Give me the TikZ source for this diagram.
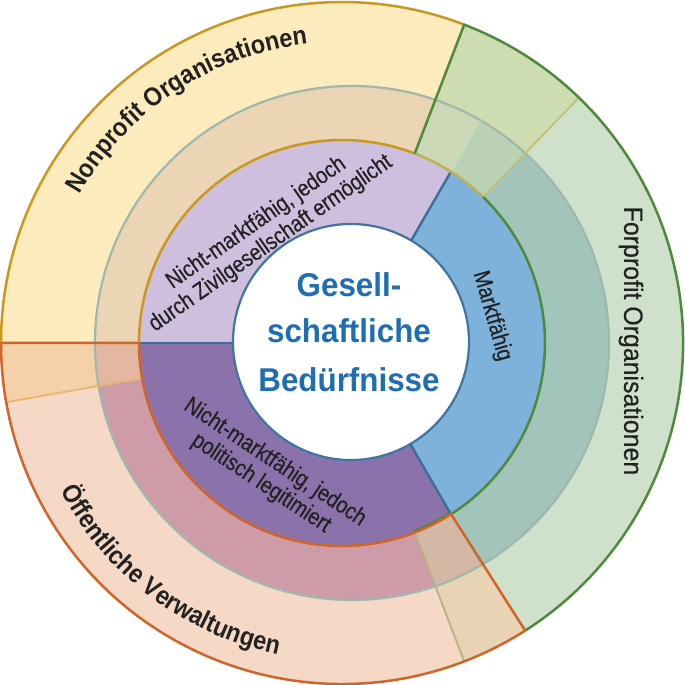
\documentclass[tikz,border=0pt]{standalone}
\usepackage{fontspec}
\setmainfont{Liberation Sans}
\newfontfamily\needfont[FakeStretch=0.84, FakeBold=0.4]{Liberation Sans}
\newfontfamily\orgcond[FakeStretch=0.9]{Liberation Sans}
\newfontfamily\ctrfont[FakeStretch=0.95]{Liberation Sans}
\newfontfamily\forfont[FakeStretch=0.94, FakeBold=0.4]{Liberation Sans}
\usetikzlibrary{decorations.text}
\definecolor{cYel}{HTML}{FBEBBD}
\definecolor{cYelM}{HTML}{EBD5B4}
\definecolor{cGrn}{HTML}{CFE1CB}
\definecolor{cGrnM}{HTML}{A3C4BA}
\definecolor{cYG}{HTML}{CEDCB2}
\definecolor{cYGL}{HTML}{CCD7B6}
\definecolor{cYGB}{HTML}{BAD2B3}
\definecolor{cSal}{HTML}{F5D8C5}
\definecolor{cSalM}{HTML}{CE9CA8}
\definecolor{cOra}{HTML}{F5D1A9}
\definecolor{cOraM}{HTML}{E4B8A0}
\definecolor{cGS}{HTML}{E8D3B4}
\definecolor{cGSM}{HTML}{D4B8A6}
\definecolor{cLav}{HTML}{CDBFDD}
\definecolor{cPur}{HTML}{8C72AA}
\definecolor{cBlu}{HTML}{7EB2DA}
\definecolor{lGold}{HTML}{C9981F}
\definecolor{lGreen}{HTML}{4F8A3C}
\definecolor{lOrange}{HTML}{D0652A}
\definecolor{lOlive}{HTML}{C4BE78}
\definecolor{lOliveG}{HTML}{BDB25A}
\definecolor{lKhaki}{HTML}{B7B27F}
\definecolor{lLOrange}{HTML}{E8B46E}
\definecolor{lRing}{HTML}{A0B7AE}
\definecolor{lNeed}{HTML}{3C6E9C}
\definecolor{lWhite}{HTML}{3F75A5}
\definecolor{tBlue}{HTML}{1F6EB4}
\definecolor{tDark}{HTML}{222222}
\newcommand\wdg[4]{(#1) -- ++(#2:#4) arc[start angle=#2, end angle=#3, radius=#4] -- cycle}
\newcommand\orgfont{\orgcond\fontsize{26}{30}\selectfont\bfseries}
\tikzset{
  bord/.style={line width=2.5pt, line join=round},
  faintline/.style={line width=1.2pt},
  needtxt/.style={inner sep=0pt, text=tDark, align=center, font=\needfont\fontsize{23.5}{25}\selectfont},
  centertxt/.style={inner sep=0pt, anchor=base, text=tBlue, font=\ctrfont\fontsize{33}{47}\selectfont\bfseries},
}
\begin{document}
\begin{tikzpicture}[x=1pt,y=1pt]
\useasboundingbox (-342,-342) rectangle (343,343);
\fill[white] (-342,-342) rectangle (343,343);
% outer ring colours (organisation sectors)
\fill[cGrn] \wdg{0,0}{-57.5}{46}{341};
\fill[cYG] \wdg{0,0}{46}{69}{341};
\fill[cYel] \wdg{0,0}{69}{180}{341};
\fill[cOra] \wdg{0,0}{180}{190}{341};
\fill[cSal] \wdg{0,0}{190}{291}{341};
\fill[cGS] \wdg{0,0}{291}{302.5}{341};
% middle ring colours
\begin{scope}
  \clip \wdg{10,0}{60}{180}{257};
  \fill[cYelM] \wdg{0,0}{69}{180}{345};
  \fill[cYGL] \wdg{0,0}{46}{69}{345};
\end{scope}
\begin{scope}
  \clip \wdg{10,0}{-60}{60}{257};
  \fill[cGrnM] \wdg{0,0}{-60}{46}{345};
  \fill[cYGB] \wdg{0,0}{46}{69}{345};
\end{scope}
\begin{scope}
  \clip \wdg{10,0}{180}{300}{257};
  \fill[cOraM] \wdg{0,0}{180}{190}{345};
  \fill[cSalM] \wdg{0,0}{190}{291}{345};
  \fill[cGSM] \wdg{0,0}{291}{305}{345};
\end{scope}
% inner ring (needs)
\begin{scope}
  \clip (0,0) circle (203);
  \fill[cLav] \wdg{10,0}{60}{180}{300};
  \fill[cBlu] \wdg{10,0}{-60}{60}{300};
  \fill[cPur] \wdg{10,0}{180}{300}{300};
  \draw[lNeed, line width=2.4pt] (10,0) -- ++(60:260);
  \draw[lNeed, line width=2.4pt] (10,0) -- ++(-60:260);
  \draw[lNeed, line width=2.4pt] (10,0) -- ++(180:260);
\end{scope}
% ring line and faint boundaries
\draw[lRing, line width=2.2pt] (10,0) circle (257);
\draw[faintline, color=cYGB!80!white] ([shift={(10,0)}]60:198) -- ([shift={(10,0)}]60:257);
% Nonprofit borders
\draw[bord, lGold] (180:341) arc[start angle=180, end angle=69, radius=341];
\draw[bord, lGold] (180:203) arc[start angle=180, end angle=69, radius=203];
\draw[bord, lOliveG] (69:203) arc[start angle=69, end angle=46, radius=203];
\draw[faintline, lLOrange, line width=1.8pt] (190:203) -- (190:341);
\draw[faintline, lOlive, line width=1.8pt] (46:203) -- (46:341);
% Forprofit borders
\draw[bord, lGreen] (69:203) -- (69:341) arc[start angle=69, end angle=-57.5, radius=341];
\draw[bord, lGreen] (46:203) arc[start angle=46, end angle=-57.5, radius=203];
\draw[bord, lGreen, line width=1.8pt] (-57.5:201) arc[start angle=-57.5, end angle=-69, radius=201];
\draw[faintline, lKhaki, line width=1.8pt] (-69:203) -- (-69:341);
% Oeffentliche borders
\draw[bord, lOrange] (-57.5:341) arc[start angle=-57.5, end angle=-180, radius=341] -- (180:203) arc[start angle=180, end angle=302.5, radius=203] -- cycle;
% centre
\draw[fill=white, draw=lWhite, line width=2.2pt] (9,1) circle (118);
\node[centertxt] (c1) at (7,46) {Gesell-};
\node[centertxt] (c2) at (7,0) {schaftliche};
\node[centertxt] (c3) at (7,-48) {Bedürfnisse};
% need labels
\node[needtxt, rotate=35] (n1) at (-78.4,109.6) {Nicht-marktfähig, jedoch\\durch Zivilgesellschaft ermöglicht};
\node[needtxt, rotate=-33.5] (n2) at (-74,-130) {Nicht-marktfähig, jedoch\\politisch legitimiert};
\node[needtxt, rotate=-74] (n3) at (150,27) {Marktfähig};
% organisation labels
\node[inner sep=0pt, rotate=-90, text=tDark, font=\forfont\fontsize{26.5}{30}\selectfont] (o1) at (289,2) {Forprofit Organisationen};
\path[decorate, decoration={text along path, text color=tDark, text={|\orgfont|Nonprofit Organisationen}, text align=center}] (175.5:301) arc[start angle=175.5, end angle=71.5, radius=301];
\path[decorate, decoration={text along path, text color=tDark, text={|\orgfont|Öffentliche Verwaltungen}, text align=center}] (181:318) arc[start angle=181, end angle=285, radius=318];
\end{tikzpicture}
\end{document}
